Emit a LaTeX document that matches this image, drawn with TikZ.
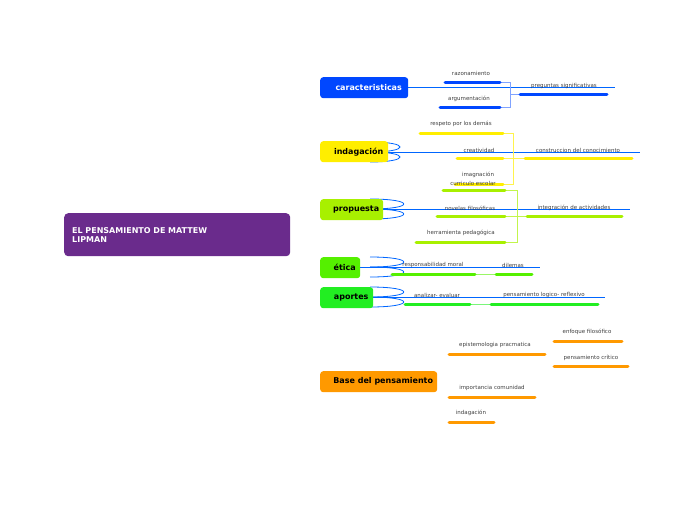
\documentclass[tikz,border=0pt]{standalone}
\usepackage{fontspec}
\setmainfont{DejaVu Sans}
\begin{document}
\begin{tikzpicture}[x=1pt,y=-1pt,
  cat/.style={rounded corners=3pt,minimum height=21pt,anchor=north west,inner sep=0pt,font=\fontsize{8}{9}\selectfont\bfseries},
  lt/.style={font=\fontsize{5.5}{6}\selectfont,text=black!75,inner sep=0pt},
  bar/.style={line width=3pt,line cap=round},
  ln/.style={draw=blue!60!cyan,line width=0.8pt}]
\useasboundingbox (0,0) rectangle (697,520);
\definecolor{pur}{HTML}{6A2B8C}\definecolor{cb}{HTML}{0047FF}\definecolor{cy}{HTML}{FFEE00}
\definecolor{cl}{HTML}{A8F000}\definecolor{cg}{HTML}{55F000}\definecolor{ca}{HTML}{22EE22}\definecolor{co}{HTML}{FF9900}
\node[rounded corners=4pt,fill=pur,text=white,minimum width=226pt,minimum height=43pt,anchor=north west,font=\fontsize{8}{9}\selectfont\bfseries,align=left,text width=210pt] (main) at (64,213) {EL PENSAMIENTO DE MATTEW\\LIPMAN};
% category lines
\foreach \y/\e in {87/615,152/640,209/630,267/540,297/605}{
  \draw[ln] (330,\y) -- (\e,\y);}
\foreach \y/\w in {152/30,209/35,267/35,297/35}{
  \draw[ln] (370,\y-10) .. controls (400+\w-20,\y-10) and (400+\w-20,\y) .. (370,\y);
  \draw[ln] (370,\y+10) .. controls (400+\w-20,\y+10) and (400+\w-20,\y) .. (370,\y);}
\node[cat,fill=cb,text=white,minimum width=88pt] (c1) at (320,77) {\hspace{9pt}caracteristicas};
\node[cat,fill=cy,minimum width=68pt] (c2) at (320,141) {\hspace{9pt}indagación};
\node[cat,fill=cl,minimum width=63pt] (c3) at (320,199) {\hspace{9pt}propuesta};
\node[cat,fill=cg,minimum width=40pt] (c4) at (320,257) {\hspace{9pt}ética};
\node[cat,fill=ca,minimum width=53pt] (c5) at (320,287) {\hspace{9pt}aportes};
\node[cat,fill=co,minimum width=117pt] (c6) at (320,371) {\hspace{9pt}Base del pensamiento};
% brackets
\draw[cb!50,line width=0.8pt] (500,82) -- (510,82) -- (510,107) -- (500,107) (510,94) -- (520,94);
\draw[cy!70,line width=0.8pt] (503,133) -- (513,133) -- (513,184) -- (503,184) (503,158) -- (525,158);
\draw[cl!70,line width=0.8pt] (505,190) -- (517,190) -- (517,242) -- (505,242) (505,216) -- (527,216);
\draw[cg!60,line width=0.8pt] (475,274) -- (496,274);
\draw[ca!60,line width=0.8pt] (470,304) -- (491,304);
% leaves
\foreach \t/\x/\y/\a/\b/\by/\c in {
 razonamiento/471/73/445/500/82/cb, argumentación/469/99/440/500/107/cb, preguntas significativas/564/86/520/607/94/cb,
 respeto por los demás/461/124/420/503/133/cy, creatividad/479/150/457/503/158/cy, imagnación/478/175/455/503/184/cy,
 construccion del conocimiento/578/150/525/632/158/cy,
 curriculo escolar/473/183/443/505/190/cl, novelas filosóficas/470/208/437/505/216/cl, herramienta pedagógica/461/233/416/505/242/cl,
 integración de actividades/574/208/527/622/216/cl,
 responsabilidad moral/433/265/392/475/274/cg, dilemas/513/265/496/532/274/cg,
 analizar- evaluar/437/295/405/470/304/ca, pensamiento logico- reflexivo/544/295/491/598/304/ca,
 epistemologia pracmatica/495/345/449/545/354/co, enfoque filosófico/587/332/554/622/341/co, pensamiento crítico/591/358/554/628/366/co,
 importancia comunidad/492/388/449/535/397/co, indagación/471/413/449/494/422/co}{
  \draw[bar,draw=\c] (\a,\by) -- (\b,\by);
  \node[lt] at (\x,\y) {\t};}
\end{tikzpicture}
\end{document}
